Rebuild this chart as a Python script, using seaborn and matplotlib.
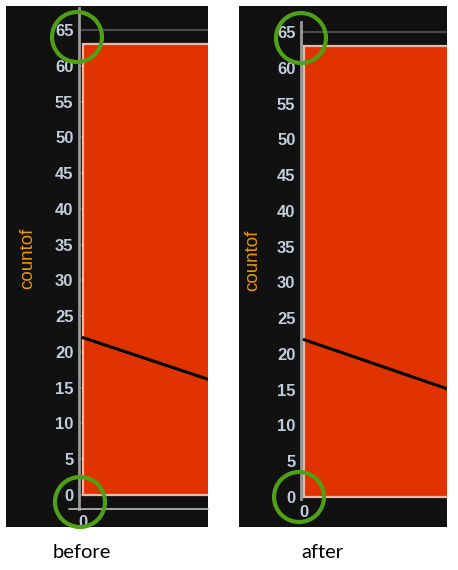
import matplotlib
matplotlib.use("Agg")
import matplotlib.pyplot as plt
import seaborn as sns
import pandas as pd
from matplotlib.patches import Ellipse

# ---- data ----
panel_titles = ["before", "after"]
bar_counts = [63, 63]
bar_edges = [0, 3]
line_x = [0, 2]
line_before = [22.0, 12.7]
line_after = [22.0, 12.4]
y_ticks = list(range(0, 70, 5))
x_ticks = [0]
y_label = "countof"

W, H = 458, 570
sns.set_style("dark")
plt.rcParams['font.family'] = ['Liberation Sans', 'DejaVu Sans']

fig = plt.figure(figsize=(W / 100, H / 100), dpi=100, facecolor='white')


def rect(l, t, r, b):
    return [l / W, 1 - b / H, (r - l) / W, (b - t) / H]


specs = [
    dict(bg=(6, 6, 208, 527), ax=(79, 8, 208, 509), ylim=(-1.96, 68.1), xlim=(-0.04, 1.25),
         lab=(28, 258), line=line_before, count=bar_counts[0], bottom=True,
         title=(82, 553), circles=[(77, 37), (80, 502)]),
    dict(bg=(239, 6, 447, 527), ax=(301, 22, 447, 499), ylim=(-0.28, 66.4), xlim=(-0.03, 1.43),
         lab=(253, 260), line=line_after, count=bar_counts[1], bottom=False,
         title=(322, 553), circles=[(301, 38), (299, 497)]),
]

for title, s in zip(panel_titles, specs):
    bg = fig.add_axes(rect(*s['bg']))
    bg.set_facecolor('#111111')
    bg.set_xticks([]); bg.set_yticks([])
    for sp in bg.spines.values():
        sp.set_visible(False)

    ax = fig.add_axes(rect(*s['ax']))
    ax.set_facecolor('#111111')
    df = pd.DataFrame({"x": [sum(bar_edges) / 2], "count": [s['count']]})
    sns.histplot(data=df, x="x", weights="count", bins=bar_edges, ax=ax,
                 color='#e13300', edgecolor='#f0b6a4', linewidth=1.6, alpha=1, zorder=2)
    sns.lineplot(x=line_x, y=s['line'], ax=ax, color='black', linewidth=2.2, zorder=3)
    ax.set_xlim(*s['xlim'])
    ax.set_ylim(*s['ylim'])
    ax.set_yticks(y_ticks)
    ax.set_xticks(x_ticks)
    ax.set_xticklabels([str(v) for v in x_ticks])
    ax.set_xlabel("")
    ax.set_ylabel("")
    ax.grid(axis='y', color='#4a4a4a', linewidth=1.5, zorder=0)
    ax.grid(axis='x', visible=False)
    ax.set_axisbelow(True)
    ax.tick_params(axis='both', colors='#8a8a8a', labelcolor='#c3cbdc',
                   length=2, width=1, pad=2, labelsize=12)
    for lbl in ax.get_yticklabels() + ax.get_xticklabels():
        lbl.set_fontweight('bold')
    for k in ('top', 'right'):
        ax.spines[k].set_visible(False)
    ax.spines['left'].set_visible(True)
    ax.spines['left'].set_color('#9a9a9a')
    ax.spines['left'].set_linewidth(2)
    ax.spines['bottom'].set_visible(False)
    if s['bottom']:
        ax.axhline(s['ylim'][0], xmin=-0.08, xmax=1, color='#b0b0b0', linewidth=1.3,
                   clip_on=False, zorder=5)

    lx, ly = s['lab']
    fig.text(lx / W, 1 - ly / H, y_label, rotation=90, color='#e8960a',
             fontsize=13.5, ha='center', va='center')

    tx, ty = s['title']
    fig.text(tx / W, 1 - ty / H, title, color='black', fontsize=14.5,
             ha='center', va='center', family=['Lato', 'DejaVu Sans'])

    for cx, cy in s['circles']:
        r = 25
        fig.add_artist(Ellipse((cx / W, 1 - cy / H), 2 * r / W, 2 * r / H,
                               transform=fig.transFigure, fill=False,
                               edgecolor='#4f9f17', linewidth=3, zorder=10))

fig.savefig("out.png", dpi=100, facecolor='white')
